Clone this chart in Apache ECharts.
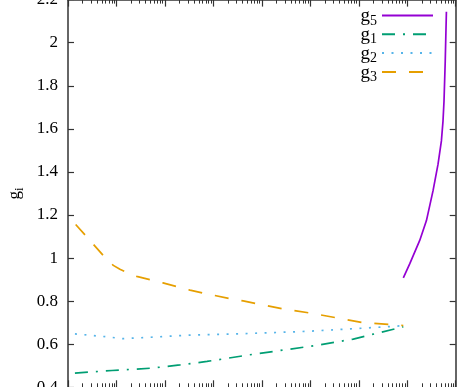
<!DOCTYPE html>
<html>
<head>
<meta charset="utf-8">
<script src="https://cdn.jsdelivr.net/npm/echarts@6/dist/echarts.min.js"></script>
<style>
html,body{margin:0;padding:0;background:#fff;}
#chart{width:474px;height:387px;}
</style>
</head>
<body>
<div id="chart"></div>
<script>
// ---- data ----
var seriesNames = ['g5', 'g1', 'g2', 'g3'];
var seriesSubs = ['5', '1', '2', '3'];
var seriesColors = ['#9400d3', '#009e73', '#56b4e9', '#e69f00'];

var g5X = [8.3e6, 1.13e7, 1.81e7, 2.49e7, 3.41e7, 4.32e7, 5.07e7, 5.47e7, 5.74e7, 6.08e7, 6.43e7];
var g5Y = [0.908, 0.974, 1.082, 1.174, 1.313, 1.436, 1.544, 1.636, 1.729, 1.913, 2.144];

var g1X = [1.39, 8.1, 54, 204, 738, 5690, 89500, 158000, 771000, 2.38e6, 8.3e6];
var g1Y = [0.466, 0.478, 0.489, 0.504, 0.520, 0.551, 0.589, 0.597, 0.624, 0.651, 0.681];

var g2X = [1.39, 5.3, 13.5, 40, 299, 5690, 89500, 3.77e6, 8.3e6];
var g2Y = [0.648, 0.636, 0.626, 0.631, 0.642, 0.650, 0.660, 0.681, 0.686];

var g3X = [1.44, 5.35, 8.6, 11.8, 16.5, 26.2, 91, 329, 668, 2160, 4120, 27500, 97700, 1.23e6, 8.3e6];
var g3Y = [1.156, 1.012, 0.966, 0.948, 0.933, 0.915, 0.885, 0.851, 0.836, 0.812, 0.801, 0.764, 0.745, 0.700, 0.687];

var xMin = 1, xMax = 1e8;
var yMin = 0.4, yMax = 2.2, yStep = 0.2;

// minor tick positions of the log axis (2..9 x 10^k)
var minorTicks = [];
for (var k = 0; k < 8; k++) {
  for (var m = 2; m <= 9; m++) minorTicks.push(m * Math.pow(10, k));
}

function pairs(xs, ys) {
  return xs.map(function (x, i) { return [x, ys[i]]; });
}

var serif = '"Liberation Serif", "DejaVu Serif", serif';
var axisCol = '#333';
var dashes = {
  g5: 'solid',
  g1: [13, 8, 2, 8],
  g2: [2, 7.5],
  g3: [14, 13]
};
var dataMap = {
  g5: pairs(g5X, g5Y),
  g1: pairs(g1X, g1Y),
  g2: pairs(g2X, g2Y),
  g3: pairs(g3X, g3Y)
};

var nameRich = {
  g: {fontFamily: serif, fontSize: 17, color: '#000', lineHeight: 16, verticalAlign: 'top'},
  s: {fontFamily: serif, fontSize: 13, color: '#000', lineHeight: 13, verticalAlign: 'top', padding: [7, 0, 0, 0]}
};
var legendRich = {
  g: {fontFamily: serif, fontSize: 19, color: '#000', lineHeight: 17, verticalAlign: 'top'},
  s: {fontFamily: serif, fontSize: 14, color: '#000', lineHeight: 14, verticalAlign: 'top', padding: [7, 0, 0, 0]}
};

var chart = echarts.init(document.getElementById('chart'), null, {renderer: 'canvas'});

function xAx(pos, major) {
  return {
    type: 'log', logBase: 10, min: xMin, max: xMax, position: pos,
    gridIndex: 0,
    axisLine: {show: major, lineStyle: {color: axisCol, width: 1.5}},
    axisTick: major ? {show: true, inside: true, length: 7, lineStyle: {color: axisCol, width: 1.2}}
                    : {show: true, inside: true, length: 4, customValues: minorTicks, lineStyle: {color: axisCol, width: 1}},
    axisLabel: {show: false},
    splitLine: {show: false},
    minorTick: {show: false}
  };
}

var option = {
  backgroundColor: '#fff',
  animation: false,
  grid: {left: 68, right: 18.3, top: -0.4, bottom: -0.3, containLabel: false, outerBoundsMode: 'none'},
  legend: {
    orient: 'vertical',
    right: 35,
    top: 2,
    align: 'right',
    itemWidth: 51,
    itemHeight: 14,
    itemGap: -2.2,
    data: seriesNames,
    itemStyle: {opacity: 0},
    formatter: function (name) {
      return '{g|g}{s|' + seriesSubs[seriesNames.indexOf(name)] + '}';
    },
    textStyle: {rich: legendRich}
  },
  xAxis: [xAx('bottom', true), xAx('top', true), xAx('bottom', false), xAx('top', false)],
  yAxis: [
    {
      type: 'value', min: yMin, max: yMax, interval: yStep, position: 'left',
      axisLine: {show: true, lineStyle: {color: axisCol, width: 1.5}},
      axisTick: {show: true, inside: true, length: 6, lineStyle: {color: axisCol, width: 1.2}},
      axisLabel: {fontFamily: serif, fontSize: 17, color: '#000', margin: 10},
      splitLine: {show: false},
      name: '{g|g}{s|i}',
      nameLocation: 'middle',
      nameGap: 45,
      nameTextStyle: {rich: nameRich}
    },
    {
      type: 'value', min: yMin, max: yMax, interval: yStep, position: 'right',
      axisLine: {show: true, lineStyle: {color: axisCol, width: 1.5}},
      axisTick: {show: true, inside: true, length: 6, lineStyle: {color: axisCol, width: 1.2}},
      axisLabel: {show: false},
      splitLine: {show: false}
    }
  ],
  series: seriesNames.map(function (n, i) {
    return {
      name: n,
      type: 'line',
      xAxisIndex: 0,
      yAxisIndex: 0,
      data: dataMap[n],
      symbol: 'none',
      smooth: false,
      color: seriesColors[i],
      lineStyle: {color: seriesColors[i], width: 1.7, type: dashes[n]},
      itemStyle: {color: seriesColors[i]}
    };
  })
};
chart.setOption(option);
</script>
</body>
</html>
